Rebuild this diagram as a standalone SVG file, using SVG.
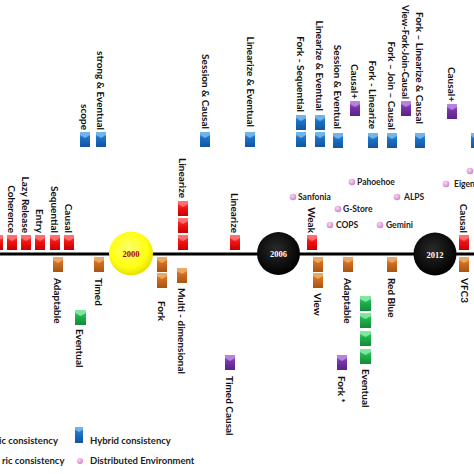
<svg xmlns="http://www.w3.org/2000/svg" xmlns:xlink="http://www.w3.org/1999/xlink" width="474" height="474" viewBox="0 0 474 474">
<defs>
<style>
.lb{font-family:Lato,"Liberation Sans",sans-serif;font-weight:bold;font-size:10px;fill:#111;dominant-baseline:central}
.up{text-anchor:end}
.dn{text-anchor:start}
.env{font-family:Lato,"Liberation Sans",sans-serif;font-weight:bold;font-size:8.5px;fill:#222}
.lg{font-family:Lato,"Liberation Sans",sans-serif;font-weight:bold;font-size:9.5px;fill:#222}
.yr{font-family:"Liberation Serif",serif;font-weight:bold;font-size:8.5px;text-anchor:middle;dominant-baseline:central}
</style>
<linearGradient id="gR" x1="0" y1="0" x2="0" y2="1"><stop offset="0" stop-color="#ff4a4a"/><stop offset="0.5" stop-color="#ee1111"/><stop offset="1" stop-color="#c80000"/></linearGradient>
<linearGradient id="gO" x1="0" y1="0" x2="0" y2="1"><stop offset="0" stop-color="#e08a3c"/><stop offset="0.5" stop-color="#c96a1e"/><stop offset="1" stop-color="#a85412"/></linearGradient>
<linearGradient id="gB" x1="0" y1="0" x2="0" y2="1"><stop offset="0" stop-color="#3d8fd8"/><stop offset="0.5" stop-color="#1a6cc0"/><stop offset="1" stop-color="#12559e"/></linearGradient>
<linearGradient id="gG" x1="0" y1="0" x2="0" y2="1"><stop offset="0" stop-color="#3fcf6c"/><stop offset="0.5" stop-color="#1eac4a"/><stop offset="1" stop-color="#148a38"/></linearGradient>
<linearGradient id="gP" x1="0" y1="0" x2="0" y2="1"><stop offset="0" stop-color="#9a5acb"/><stop offset="0.5" stop-color="#7432a6"/><stop offset="1" stop-color="#5c2288"/></linearGradient>
<radialGradient id="gY" cx="0.45" cy="0.4" r="0.6"><stop offset="0" stop-color="#ffff70"/><stop offset="0.7" stop-color="#ffff10"/><stop offset="1" stop-color="#e6e000"/></radialGradient>
<radialGradient id="gK" cx="0.45" cy="0.4" r="0.6"><stop offset="0" stop-color="#2a2a2a"/><stop offset="1" stop-color="#000"/></radialGradient>
<radialGradient id="gD" cx="0.4" cy="0.35" r="0.7"><stop offset="0" stop-color="#f8d8f4"/><stop offset="1" stop-color="#d07ccc"/></radialGradient>
<g id="bR"><rect width="10" height="15" fill="url(#gR)"/><polygon points="0,0 10,0 10,3 5,6 0,3" fill="#ff7a7a" opacity="0.8"/></g>
<g id="bO"><rect width="10" height="15" fill="url(#gO)"/><polygon points="0,0 10,0 10,3 5,6 0,3" fill="#f0b070" opacity="0.8"/></g>
<g id="bB"><rect width="10" height="15" fill="url(#gB)"/><polygon points="0,0 10,0 10,3 5,6 0,3" fill="#80c0f0" opacity="0.8"/></g>
<g id="bG"><rect width="11" height="15" fill="url(#gG)"/><polygon points="0,0 11,0 11,3 5.5,6 0,3" fill="#90f0b0" opacity="0.8"/></g>
<g id="bP"><rect width="10" height="15" fill="url(#gP)"/><polygon points="0,0 10,0 10,3 5,6 0,3" fill="#c090e8" opacity="0.8"/></g>
</defs>
<rect width="474" height="474" fill="#fff"/>

<g id="connectors">
<line x1="0" y1="254" x2="474" y2="254" stroke="#000" stroke-width="3"/>
</g>

<g id="year-2000"><circle cx="131" cy="253.5" r="22" fill="url(#gY)"/><text class="yr" x="131" y="254" fill="#b00000">2000</text></g>
<g id="year-2006"><circle cx="278.5" cy="253.5" r="21.5" fill="url(#gK)"/><text class="yr" x="278.5" y="254" fill="#fff">2006</text></g>
<g id="year-2012"><circle cx="435" cy="254" r="21.5" fill="url(#gK)"/><text class="yr" x="435" y="254.5" fill="#fff">2012</text></g>

<!-- red: above timeline -->
<g id="n-red-partial"><use href="#bR" x="-7" y="235"/></g>
<g id="n-coherence"><use href="#bR" x="7" y="235"/><text class="lb up" transform="translate(11.5,233) rotate(90)">Coherence</text></g>
<g id="n-lazy-release"><use href="#bR" x="21" y="235"/><text class="lb up" transform="translate(26,233) rotate(90)">Lazy Release</text></g>
<g id="n-entry"><use href="#bR" x="35" y="235"/><text class="lb up" transform="translate(40,233) rotate(90)">Entry</text></g>
<g id="n-sequential"><use href="#bR" x="50" y="235"/><text class="lb up" transform="translate(55,233) rotate(90)">Sequential</text></g>
<g id="n-causal-1"><use href="#bR" x="64" y="235"/><text class="lb up" transform="translate(69,233) rotate(90)">Causal</text></g>
<g id="n-linearize-1"><use href="#bR" x="178" y="201"/><use href="#bR" x="178" y="218"/><use href="#bR" x="178" y="235"/><text class="lb up" transform="translate(183,198) rotate(90)">Linearize</text></g>
<g id="n-linearize-2"><use href="#bR" x="230" y="235"/><text class="lb up" transform="translate(235,233) rotate(90)">Linearize</text></g>
<g id="n-weak"><use href="#bR" x="307" y="235"/><text class="lb up" transform="translate(312,233) rotate(90)">Weak</text></g>
<g id="n-causal-2"><use href="#bR" x="459" y="235"/><text class="lb up" transform="translate(464,233) rotate(90)">Causal</text></g>

<!-- orange: below timeline -->
<g id="n-adaptable-1"><use href="#bO" x="53" y="257"/><text class="lb dn" transform="translate(58,278) rotate(90)">Adaptable</text></g>
<g id="n-timed"><use href="#bO" x="94" y="257"/><text class="lb dn" transform="translate(99,278) rotate(90)">Timed</text></g>
<g id="n-fork"><use href="#bO" x="157" y="257"/><use href="#bO" x="157" y="273"/><text class="lb dn" transform="translate(162,301) rotate(90)">Fork</text></g>
<g id="n-multi"><use href="#bO" x="177" y="268"/><text class="lb dn" transform="translate(181.5,288) rotate(90)">Multi - dimensional</text></g>
<g id="n-view"><use href="#bO" x="313" y="257"/><use href="#bO" x="313" y="273"/><text class="lb dn" transform="translate(317.5,293) rotate(90)">View</text></g>
<g id="n-adaptable-2"><use href="#bO" x="343" y="257"/><text class="lb dn" transform="translate(348,278) rotate(90)">Adaptable</text></g>
<g id="n-red-blue"><use href="#bO" x="387" y="257"/><text class="lb dn" transform="translate(392,278) rotate(90)">Red Blue</text></g>
<g id="n-vfc3"><use href="#bO" x="459" y="257"/><text class="lb dn" transform="translate(464.5,278) rotate(90)">VFC3</text></g>

<!-- green -->
<g id="n-eventual-1"><use href="#bG" x="75" y="310"/><text class="lb dn" transform="translate(80,329) rotate(90)">Eventual</text></g>
<g id="n-eventual-2"><use href="#bG" x="360" y="296"/><use href="#bG" x="360" y="313"/><use href="#bG" x="360" y="331"/><use href="#bG" x="360" y="349"/><text class="lb dn" transform="translate(365.5,369) rotate(90)">Eventual</text></g>

<!-- purple -->
<g id="n-timed-causal"><use href="#bP" x="225" y="355"/><text class="lb dn" transform="translate(230,376) rotate(90)">Timed Causal</text></g>
<g id="n-fork-star"><use href="#bP" x="337" y="355"/><text class="lb dn" transform="translate(342,376) rotate(90)">Fork *</text></g>
<g id="n-causalplus-1"><use href="#bP" x="350" y="101"/><text class="lb up" transform="translate(355,99) rotate(90)">Causal+</text></g>
<g id="n-view-fork-join-causal"><use href="#bP" x="401" y="101"/><text class="lb up" transform="translate(406,99) rotate(90)" textLength="94" lengthAdjust="spacingAndGlyphs">View-Fork-Join-Causal</text></g>
<g id="n-causalplus-2"><use href="#bP" x="447" y="104"/><text class="lb up" transform="translate(452,102) rotate(90)">Causal+</text></g>

<!-- blue: hybrid -->
<g id="n-scope"><use href="#bB" x="80" y="132"/><text class="lb up" transform="translate(85,130) rotate(90)">scope</text></g>
<g id="n-strong-eventual"><use href="#bB" x="96" y="132"/><text class="lb up" transform="translate(101,130) rotate(90)">strong &amp; Eventual</text></g>
<g id="n-session-causal"><use href="#bB" x="200" y="132"/><text class="lb up" transform="translate(205.5,129) rotate(90)">Session &amp; Causal</text></g>
<g id="n-linearize-eventual-1"><use href="#bB" x="245" y="132"/><text class="lb up" transform="translate(250.5,127) rotate(90)">Linearize &amp; Eventual</text></g>
<g id="n-fork-sequential"><use href="#bB" x="296" y="115"/><use href="#bB" x="296" y="132"/><text class="lb up" transform="translate(301,112) rotate(90)">Fork - Sequential</text></g>
<g id="n-linearize-eventual-2"><use href="#bB" x="315" y="115"/><use href="#bB" x="315" y="132"/><text class="lb up" transform="translate(320,111) rotate(90)">Linearize &amp; Eventual</text></g>
<g id="n-session-eventual"><use href="#bB" x="333" y="133"/><text class="lb up" transform="translate(338,129) rotate(90)">Session &amp; Eventual</text></g>
<g id="n-fork-linearize"><use href="#bB" x="368" y="133"/><text class="lb up" transform="translate(373,129) rotate(90)">Fork - Linearize</text></g>
<g id="n-fork-join-causal"><use href="#bB" x="387" y="133"/><text class="lb up" transform="translate(392,130) rotate(90)">Fork – Join – Causal</text></g>
<g id="n-fork-linearize-causal"><use href="#bB" x="415" y="133"/><text class="lb up" transform="translate(420,124) rotate(90)">Fork – Linearize &amp; Causal</text></g>
<g id="n-blue-partial"><use href="#bB" x="471" y="133"/></g>

<!-- distributed environments -->
<g id="e-pahoehoe"><circle cx="352" cy="182" r="3.3" fill="url(#gD)"/><text class="env" x="357" y="185">Pahoehoe</text></g>
<g id="e-sanfonia"><circle cx="293" cy="197" r="3.3" fill="url(#gD)"/><text class="env" x="298" y="200">Sanfonia</text></g>
<g id="e-alps"><circle cx="397" cy="197" r="3.3" fill="url(#gD)"/><text class="env" x="404" y="200">ALPS</text></g>
<g id="e-gstore"><circle cx="338" cy="209" r="3.3" fill="url(#gD)"/><text class="env" x="343" y="212">G-Store</text></g>
<g id="e-cops"><circle cx="330" cy="225" r="3.3" fill="url(#gD)"/><text class="env" x="336" y="228">COPS</text></g>
<g id="e-gemini"><circle cx="380" cy="225" r="3.3" fill="url(#gD)"/><text class="env" x="386" y="228">Gemini</text></g>
<g id="e-eigen"><circle cx="446" cy="184" r="3.3" fill="url(#gD)"/><text class="env" x="454" y="187">Eigen</text></g>
<g id="e-partial"><circle cx="470" cy="171" r="3.3" fill="url(#gD)"/></g>

<!-- legend -->
<g id="legend">
<text class="lg" x="-1" y="444">ic consistency</text>
<text class="lg" x="2" y="464">ric consistency</text>
<rect x="75" y="427" width="8" height="16" fill="url(#gB)"/>
<polygon points="75,427 83,427 83,429.5 79,432 75,429.5" fill="#80c0f0" opacity="0.8"/>
<text class="lg" x="90" y="444">Hybrid consistency</text>
<circle cx="80" cy="461" r="3" fill="url(#gD)"/>
<text class="lg" x="90" y="464">Distributed Environment</text>
</g>
</svg>
